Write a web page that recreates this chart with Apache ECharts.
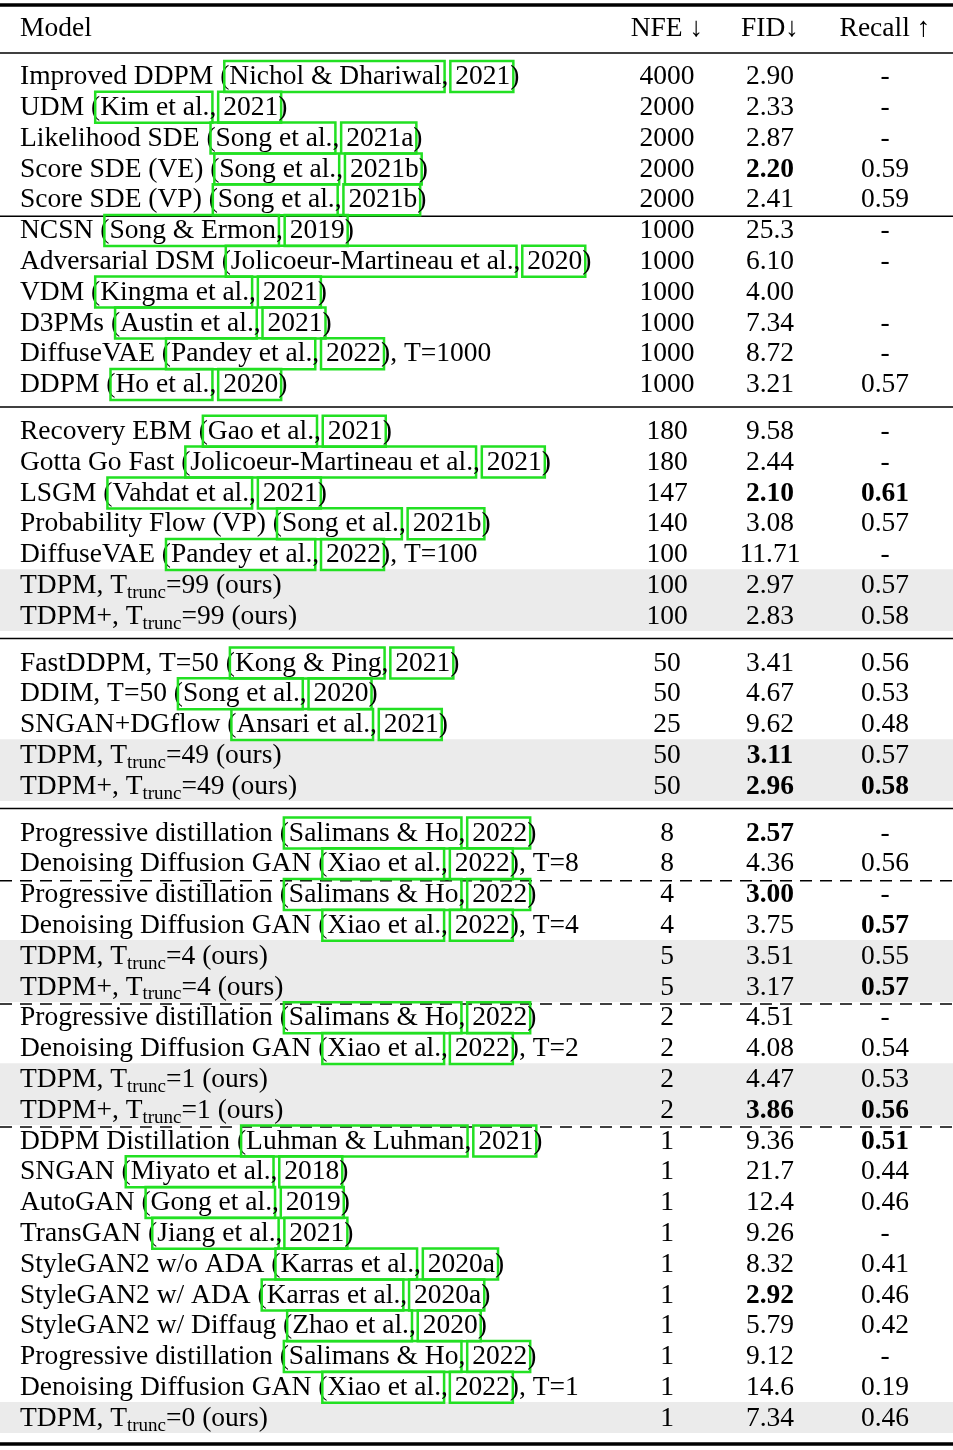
<!DOCTYPE html>
<html>
<head>
<meta charset="utf-8">
<script src="https://cdn.jsdelivr.net/npm/echarts@6/dist/echarts.min.js"></script>
<style>body{margin:0;background:#fff}#c{width:953px;height:1450px}</style>
</head>
<body>
<div id="c"></div>
<script>
// table content
var headers = ['Model', 'NFE \u2193', 'FID\u2193', 'Recall \u2191'];
var models = [
  'Improved DDPM (Nichol & Dhariwal, 2021)', 'UDM (Kim et al., 2021)', 'Likelihood SDE (Song et al., 2021a)',
  'Score SDE (VE) (Song et al., 2021b)', 'Score SDE (VP) (Song et al., 2021b)',
  'NCSN (Song & Ermon, 2019)', 'Adversarial DSM (Jolicoeur-Martineau et al., 2020)', 'VDM (Kingma et al., 2021)',
  'D3PMs (Austin et al., 2021)', 'DiffuseVAE (Pandey et al., 2022), T=1000', 'DDPM (Ho et al., 2020)',
  'Recovery EBM (Gao et al., 2021)', 'Gotta Go Fast (Jolicoeur-Martineau et al., 2021)', 'LSGM (Vahdat et al., 2021)',
  'Probability Flow (VP) (Song et al., 2021b)', 'DiffuseVAE (Pandey et al., 2022), T=100',
  'TDPM, T_trunc=99 (ours)', 'TDPM+, T_trunc=99 (ours)',
  'FastDDPM, T=50 (Kong & Ping, 2021)', 'DDIM, T=50 (Song et al., 2020)', 'SNGAN+DGflow (Ansari et al., 2021)',
  'TDPM, T_trunc=49 (ours)', 'TDPM+, T_trunc=49 (ours)',
  'Progressive distillation (Salimans & Ho, 2022)', 'Denoising Diffusion GAN (Xiao et al., 2022), T=8',
  'Progressive distillation (Salimans & Ho, 2022)', 'Denoising Diffusion GAN (Xiao et al., 2022), T=4',
  'TDPM, T_trunc=4 (ours)', 'TDPM+, T_trunc=4 (ours)',
  'Progressive distillation (Salimans & Ho, 2022)', 'Denoising Diffusion GAN (Xiao et al., 2022), T=2',
  'TDPM, T_trunc=1 (ours)', 'TDPM+, T_trunc=1 (ours)',
  'DDPM Distillation (Luhman & Luhman, 2021)', 'SNGAN (Miyato et al., 2018)', 'AutoGAN (Gong et al., 2019)',
  'TransGAN (Jiang et al., 2021)', 'StyleGAN2 w/o ADA (Karras et al., 2020a)', 'StyleGAN2 w/ ADA (Karras et al., 2020a)',
  'StyleGAN2 w/ Diffaug (Zhao et al., 2020)', 'Progressive distillation (Salimans & Ho, 2022)',
  'Denoising Diffusion GAN (Xiao et al., 2022), T=1', 'TDPM, T_trunc=0 (ours)'
];
var nfe = ['4000','2000','2000','2000','2000','1000','1000','1000','1000','1000','1000',
  '180','180','147','140','100','100','100','50','50','25','50','50',
  '8','8','4','4','5','5','2','2','2','2','1','1','1','1','1','1','1','1','1','1'];
var fid = ['2.90','2.33','2.87','2.20','2.41','25.3','6.10','4.00','7.34','8.72','3.21',
  '9.58','2.44','2.10','3.08','11.71','2.97','2.83','3.41','4.67','9.62','3.11','2.96',
  '2.57','4.36','3.00','3.75','3.51','3.17','4.51','4.08','4.47','3.86',
  '9.36','21.7','12.4','9.26','8.32','2.92','5.79','9.12','14.6','7.34'];
var recall = ['-','-','-','0.59','0.59','-','-','','-','-','0.57',
  '-','-','0.61','0.57','-','0.57','0.58','0.56','0.53','0.48','0.57','0.58',
  '-','0.56','-','0.57','0.55','0.57','-','0.54','0.53','0.56',
  '0.51','0.44','0.46','-','0.41','0.46','0.42','-','0.19','0.46'];
var fidBold = [3, 13, 21, 22, 23, 25, 32, 38];
var recallBold = [13, 22, 26, 28, 32, 33];
var groupStarts = [11, 18, 23];      // solid rule with extra gap before these rows
var solidAfter = [4];                 // solid rule without gap
var dashedAfter = [24, 28, 32];
var shaded = [16, 17, 21, 22, 27, 28, 31, 32, 42];

var FONT = '"Liberation Serif", "Times New Roman", serif';
var FS = 27.5;
var ctx = document.createElement('canvas').getContext('2d');
function measure(t, size, bold) {
  ctx.font = (bold ? 'bold ' : '') + size + 'px ' + FONT;
  return ctx.measureText(t).width;
}
function rowY(i) {
  var g = 0;
  groupStarts.forEach(function (s) { if (i >= s) g += 16; });
  return 76 + i * 30.8 + g;
}
var colX = [20, 667, 770, 885];
var GREEN = '#22e022';

function txt(t, x, y, opt) {
  opt = opt || {};
  return { type: 'text', style: {
    text: t, x: x, y: y, fill: '#000', textAlign: opt.align || 'left', textVerticalAlign: 'middle',
    font: (opt.bold ? 'bold ' : '') + (opt.size || FS) + 'px ' + FONT } };
}
function box(x, y, w) {
  return { type: 'rect', shape: { x: x, y: y - 16, width: w, height: 31 },
    style: { fill: 'none', stroke: GREEN, lineWidth: 2.5 } };
}
function modelCell(s, x, y) {
  var out = [];
  var m = s.match(/^(.*\()(.+), (\d{4}[a-z]?)\)(.*)$/);
  if (m) {
    out.push(txt(m[1], x, y)); x += measure(m[1], FS);
    var wa = measure(m[2], FS);
    out.push(txt(m[2], x, y)); out.push(box(x - 5, y, wa + 8)); x += wa;
    out.push(txt(', ', x, y)); x += measure(', ', FS);
    var wy = measure(m[3], FS);
    out.push(txt(m[3], x, y)); out.push(box(x - 5, y, wy + 8)); x += wy;
    out.push(txt(')' + m[4], x, y));
    return out;
  }
  var p = s.split('_trunc');
  out.push(txt(p[0], x, y)); x += measure(p[0], FS);
  out.push(txt('trunc', x, y + 7, { size: 19 })); x += measure('trunc', 19);
  out.push(txt(p[1], x, y));
  return out;
}

var chart = echarts.init(document.getElementById('c'));
var rows = models.map(function (m, i) { return [i]; });
var rules = [];
rules.push({ y: 5, w: 3.5, dash: false });
rules.push({ y: 53, w: 1.5, dash: false });
rules.push({ y: 1444, w: 3.5, dash: false });
solidAfter.forEach(function (i) { rules.push({ y: rowY(i) + 17, w: 1.5, dash: false }); });
groupStarts.forEach(function (i) { rules.push({ y: rowY(i - 1) + 23, w: 1.5, dash: false }); });
dashedAfter.forEach(function (i) { rules.push({ y: rowY(i) + 17.5, w: 1.5, dash: true }); });

chart.setOption({
  animation: false,
  grid: { left: 0, right: 0, top: 0, bottom: 0 },
  xAxis: { type: 'value', min: 0, max: 953, show: false },
  yAxis: { type: 'value', min: 0, max: 1450, inverse: true, show: false },
  series: [
    {
      type: 'custom', z: 1,
      data: shaded.map(function (i) { return [i]; }),
      renderItem: function (params, api) {
        var i = api.value(0);
        var a = api.coord([0, rowY(i) - 15.5]), b = api.coord([953, rowY(i) + 15.5]);
        return { type: 'rect', shape: { x: a[0], y: a[1], width: b[0] - a[0], height: b[1] - a[1] },
          style: { fill: '#ebebeb' } };
      }
    },
    {
      type: 'custom', z: 2,
      data: rules.map(function (r) { return [r.y, r.w, r.dash ? 1 : 0]; }),
      renderItem: function (params, api) {
        var a = api.coord([0, api.value(0)]), b = api.coord([953, api.value(0)]);
        return { type: 'line', shape: { x1: a[0], y1: a[1], x2: b[0], y2: b[1] },
          style: { stroke: '#000', lineWidth: api.value(1), lineDash: api.value(2) ? [12, 8] : null } };
      }
    },
    {
      type: 'custom', z: 3,
      data: [[0]],
      renderItem: function (params, api) {
        var y = api.coord([0, 29])[1];
        return { type: 'group', children: headers.map(function (h, k) {
          return txt(h, api.coord([colX[k], 0])[0], y, { align: k ? 'center' : 'left' });
        }) };
      }
    },
    {
      type: 'custom', z: 3,
      data: rows,
      renderItem: function (params, api) {
        var i = api.value(0);
        var y = api.coord([0, rowY(i) + 1])[1];
        var ch = modelCell(models[i], api.coord([colX[0], 0])[0], y);
        ch.push(txt(nfe[i], api.coord([colX[1], 0])[0], y, { align: 'center' }));
        ch.push(txt(fid[i], api.coord([colX[2], 0])[0], y, { align: 'center', bold: fidBold.indexOf(i) >= 0 }));
        ch.push(txt(recall[i], api.coord([colX[3], 0])[0], y, { align: 'center', bold: recallBold.indexOf(i) >= 0 }));
        return { type: 'group', children: ch };
      }
    }
  ]
});
</script>
</body>
</html>
